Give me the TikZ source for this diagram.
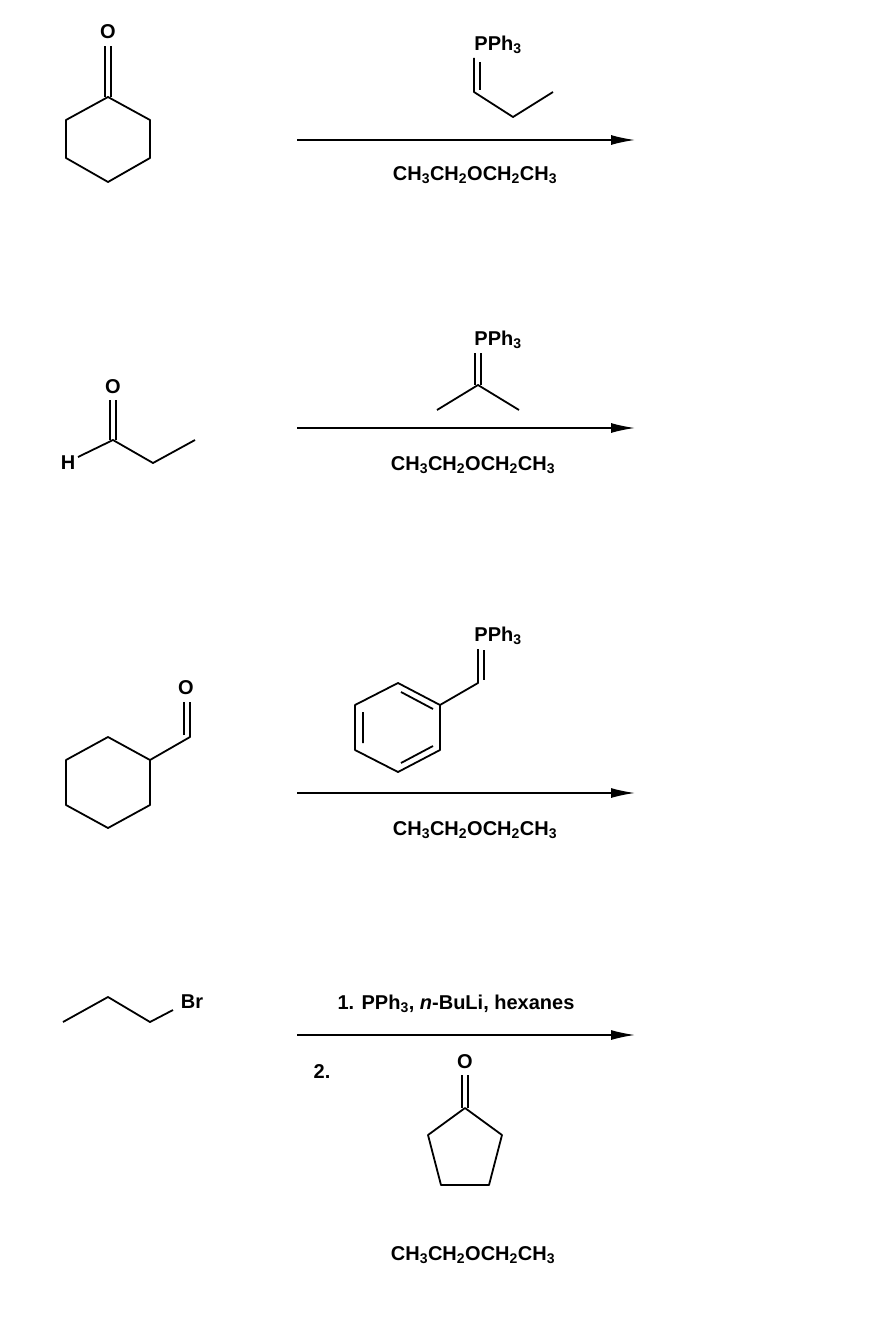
\documentclass[tikz,border=0pt]{standalone}
\usepackage{fontspec}
\setmainfont{Liberation Sans}
\usetikzlibrary{arrows.meta}
\newcommand{\subx}[1]{\textsubscript{#1}}
\begin{document}
\begin{tikzpicture}[x=1pt,y=-1pt,line width=1.8pt,line join=round,
  lbl/.style={font=\bfseries\fontsize{20}{24}\selectfont,inner sep=1pt},
  rxn/.style={line width=1.5pt,-{Latex[length=24pt,width=10pt]}}]
\useasboundingbox (0,0) rectangle (885,1324);
% 1 cyclohexanone
\node[lbl] (o1) at (108,32) {O};
\draw (108,97)--(150,120)--(150,158)--(108,182)--(66,158)--(66,120)--cycle;
\draw (105,97)--(105,46) (111,97)--(111,46);
\coordinate (a1s) at (297,140); \coordinate (a1e) at (635,140);
\draw[rxn] (a1s)--(a1e);
\node[lbl] (p1) at (498,45) {PPh\subx{3}};
\draw (474,58)--(474,92)--(513,117)--(553,92);
\draw (480,62)--(480,90);
\node[lbl] (s1) at (475,175) {CH\subx{3}CH\subx{2}OCH\subx{2}CH\subx{3}};
% 2 propanal
\node[lbl] (h2) at (68,463) {H};
\node[lbl] (o2) at (113,387) {O};
\draw (78,457)--(113,440)--(153,463)--(195,440);
\draw (110,440)--(110,400) (116,440)--(116,400);
\coordinate (a2s) at (297,428); \coordinate (a2e) at (635,428);
\draw[rxn] (a2s)--(a2e);
\node[lbl] (p2) at (498,340) {PPh\subx{3}};
\draw (475,353)--(475,385) (481,353)--(481,385);
\draw (437,410)--(478,385)--(519,410);
\node[lbl] (s2) at (473,465) {CH\subx{3}CH\subx{2}OCH\subx{2}CH\subx{3}};
% 3 cyclohexanecarbaldehyde
\draw (108,737)--(150,760)--(150,805)--(108,828)--(66,805)--(66,760)--cycle;
\draw (150,760)--(190,737)--(190,702);
\draw (184,735)--(184,702);
\node[lbl] (o3) at (186,688) {O};
\coordinate (a3s) at (297,793); \coordinate (a3e) at (635,793);
\draw[rxn] (a3s)--(a3e);
\node[lbl] (p3) at (498,636) {PPh\subx{3}};
\draw (478,649)--(478,683)--(440,705);
\draw (484,650)--(484,680);
\draw (398,683)--(440,705)--(440,750)--(398,772)--(355,750)--(355,705)--cycle;
\draw (363,712)--(363,743) (401,692)--(433,709) (401,763)--(433,746);
\node[lbl] (s3) at (475,830) {CH\subx{3}CH\subx{2}OCH\subx{2}CH\subx{3}};
% 4 propyl bromide
\draw (63,1022)--(108,997)--(150,1022)--(173,1010);
\node[lbl] (br) at (192,1002) {Br};
\coordinate (a4s) at (297,1035); \coordinate (a4e) at (635,1035);
\draw[rxn] (a4s)--(a4e);
\node[lbl] (r4) at (456,1004) {1. PPh\subx{3}, \textit{n}-BuLi, hexanes};
\node[lbl] (n2) at (322,1072) {2.};
\node[lbl] (o4) at (465,1062) {O};
\draw (462,1075)--(462,1108) (468,1075)--(468,1108);
\draw (465,1108)--(502,1135)--(489,1185)--(441,1185)--(428,1135)--cycle;
\node[lbl] (s4) at (473,1255) {CH\subx{3}CH\subx{2}OCH\subx{2}CH\subx{3}};
\end{tikzpicture}
\end{document}
